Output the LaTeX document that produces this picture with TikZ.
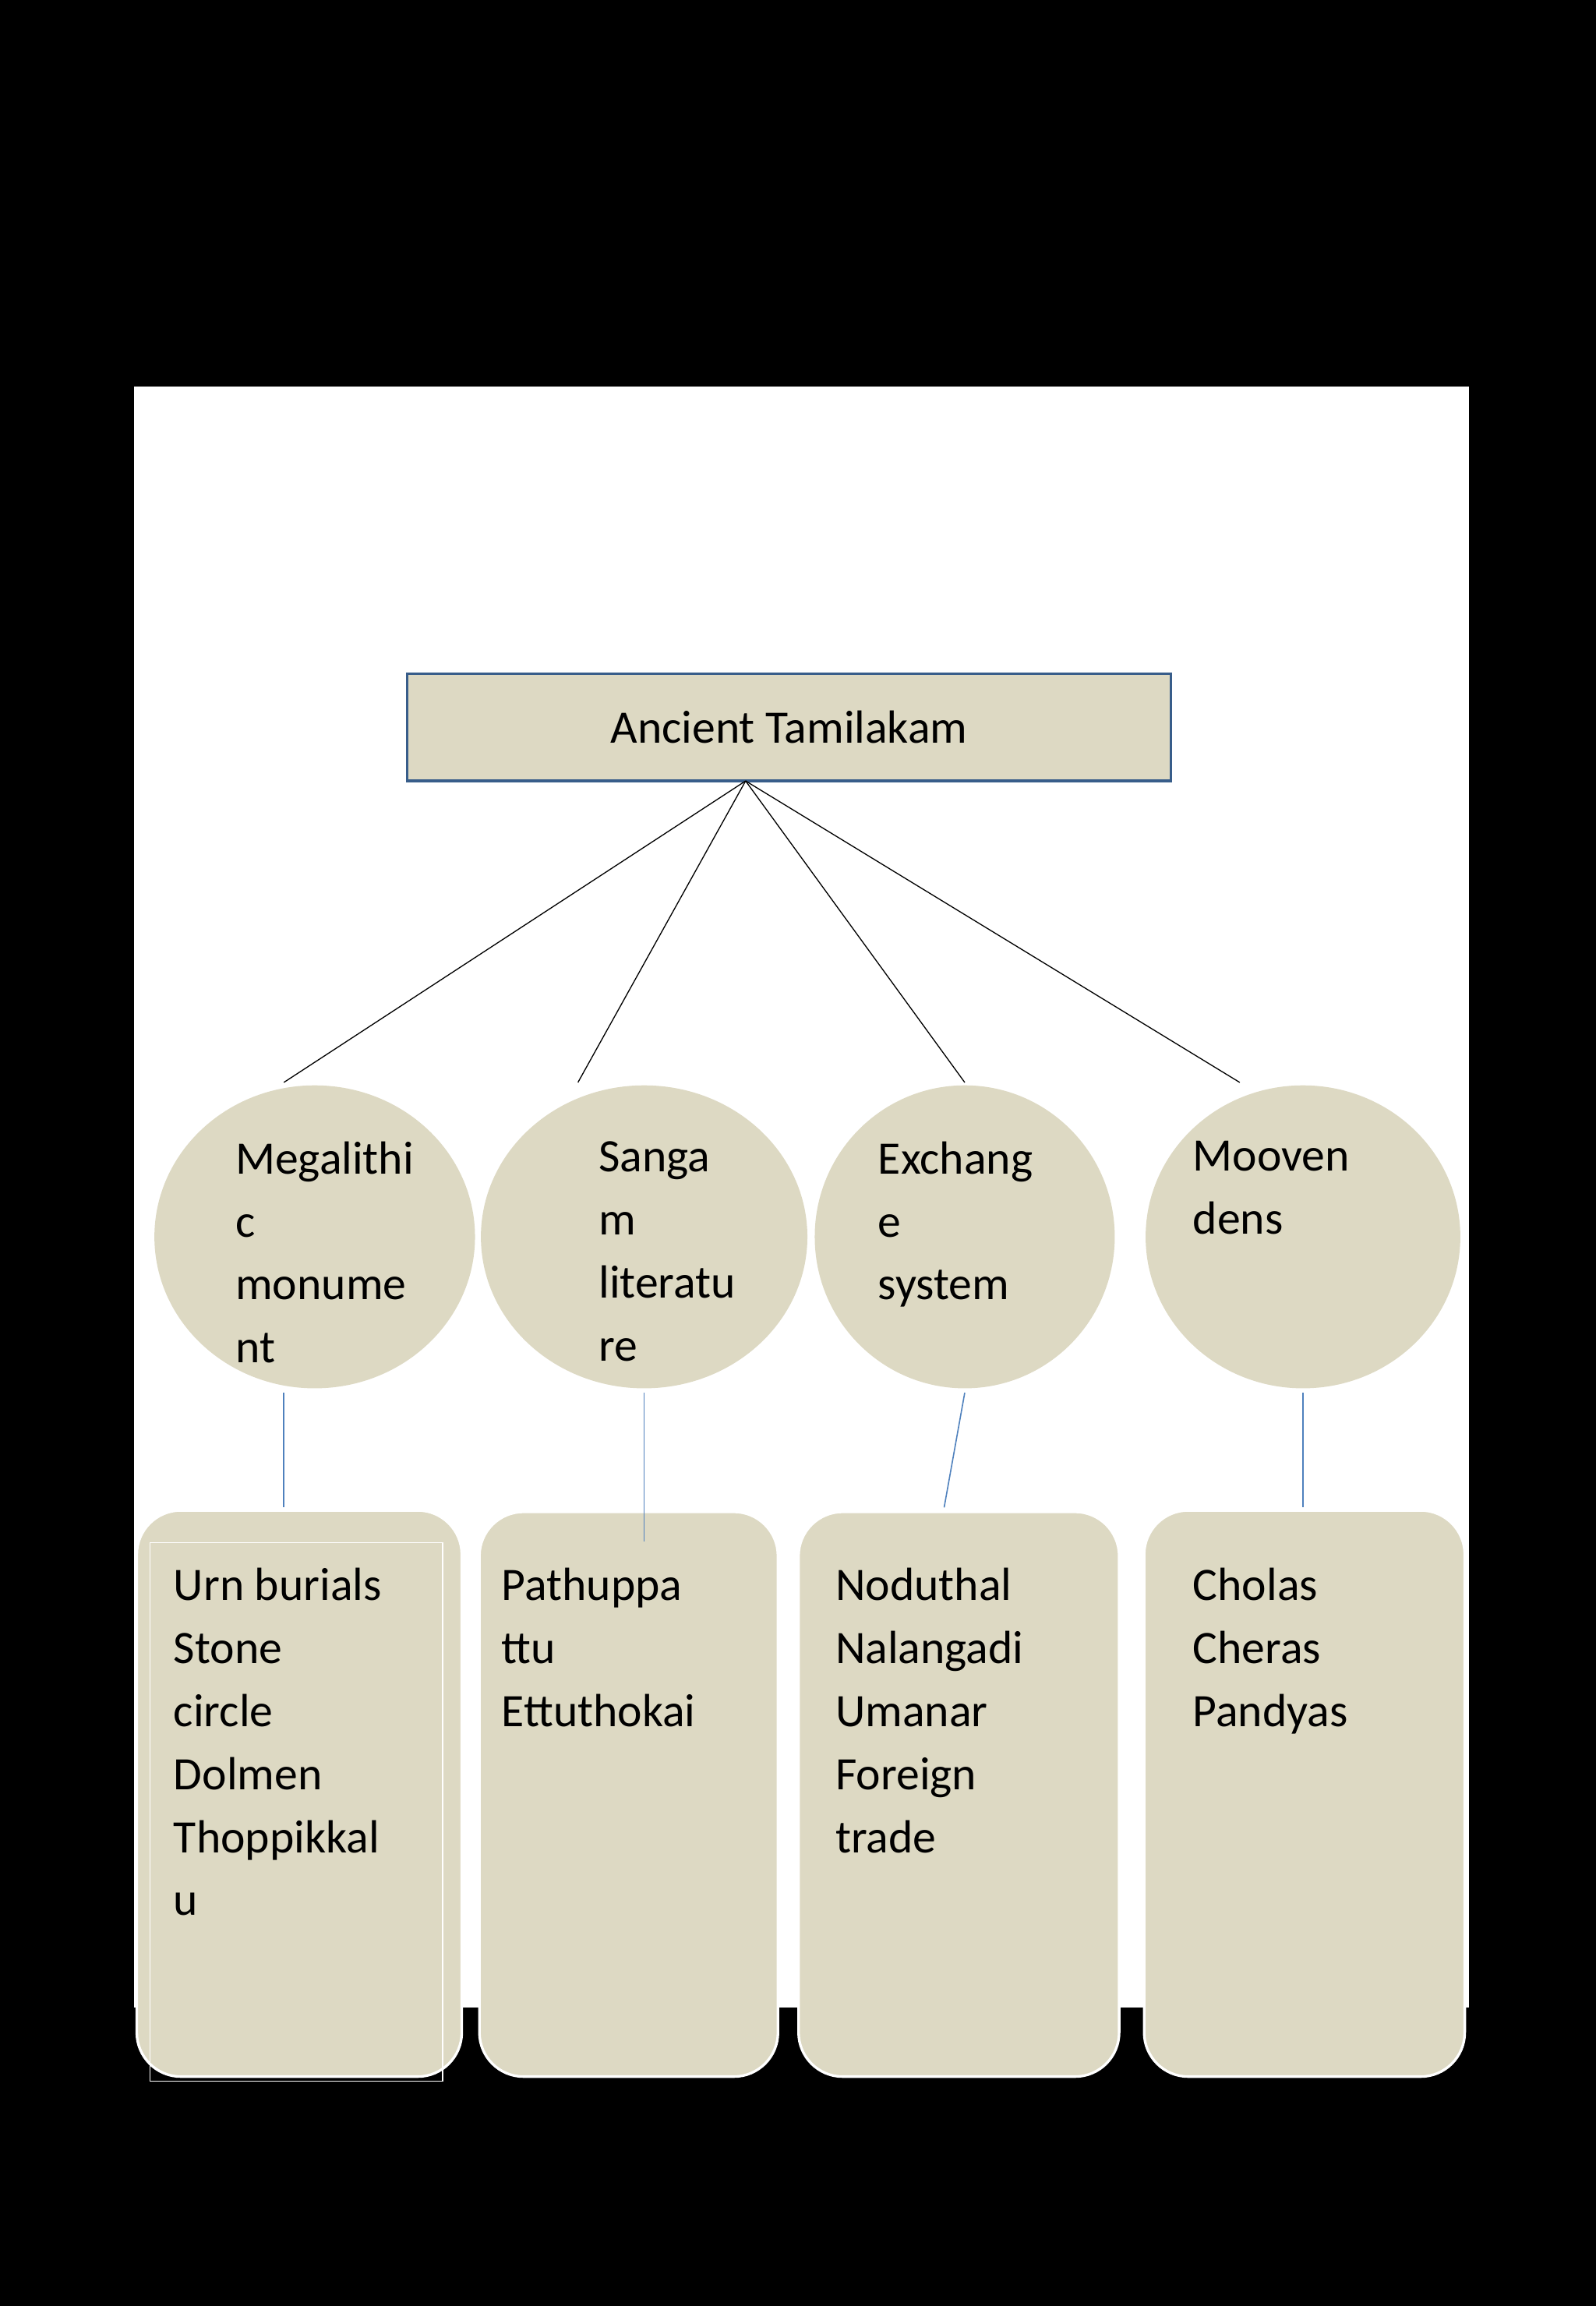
\documentclass[tikz,border=0pt]{standalone}
\usepackage{fontspec}
\setmainfont{Carlito}
\definecolor{tan}{HTML}{DDD9C3}
\definecolor{bdr}{HTML}{385D8A}
\definecolor{blu}{HTML}{4F81BD}
\begin{document}
\begin{tikzpicture}[x=0.05cm,y=-0.05cm,
  txt/.style={anchor=north west,inner sep=0pt,align=left,font=\fontsize{45pt}{61pt}\selectfont},
  bub/.style={ellipse,fill=tan},
  rbox/.style={fill=tan,draw=white,line width=2.5pt,rounded corners=1.5cm},
  conn/.style={black,line width=1pt},
  bconn/.style={blu,line width=1.2pt}]
\fill[black] (0,0) rectangle (1085,1568);
\useasboundingbox (0,0) rectangle (1085,1568);
\fill[white] (91,263) rectangle (999,1365);
\node[draw=bdr,fill=tan,line width=2.5pt,minimum width=519*0.05cm,minimum height=73*0.05cm,font=\fontsize{45pt}{61pt}\selectfont] (root) at (536.5,494.5) {Ancient Tamilakam};
\coordinate (top) at (507,531);
\coordinate (a1) at (193,736); \coordinate (a2) at (393,736);
\coordinate (a3) at (656,736); \coordinate (a4) at (843,736);
\foreach \i in {1,...,4} \draw[conn] (top) -- (a\i);
\fill[tan] (214,841) ellipse [x radius=109, y radius=103];
\fill[tan] (438,841) ellipse [x radius=111, y radius=103];
\fill[tan] (656,841) ellipse [x radius=102, y radius=103];
\fill[tan] (886,841) ellipse [x radius=107, y radius=103];
\node[txt] (c1) at (160,776) {Megalithi\\c\\monume\\nt};
\node[txt] (c2) at (407,776) {Sanga\\m\\literatu\\re};
\node[txt] (c3) at (597,776) {Exchang\\e\\system};
\node[txt] (c4) at (811,776) {Mooven\\dens};
\coordinate (b1) at (193,947); \coordinate (d1) at (193,1025);
\coordinate (b2) at (438,947); \coordinate (d2) at (438,1048);
\coordinate (b3) at (656,947); \coordinate (d3) at (642,1025);
\coordinate (b4) at (886,947); \coordinate (d4) at (886,1025);
\draw[rbox] (93,1027) rectangle (314,1412);
\draw[rbox] (326,1028) rectangle (529,1412);
\draw[rbox] (543,1028) rectangle (761,1412);
\draw[rbox] (778,1027) rectangle (996,1412);
\foreach \i in {1,...,4} \draw[bconn] (b\i) -- (d\i);
\draw[white,line width=0.8pt] (102,1049) rectangle (301,1415);
\node[txt] (t1) at (118,1066) {Urn burials\\Stone\\circle\\Dolmen\\Thoppikkal\\u};
\node[txt] (t2) at (341,1066) {Pathuppa\\ttu\\Ettuthokai};
\node[txt] (t3) at (568,1066) {Noduthal\\Nalangadi\\Umanar\\Foreign\\trade};
\node[txt] (t4) at (811,1066) {Cholas\\Cheras\\Pandyas};
\end{tikzpicture}
\end{document}
